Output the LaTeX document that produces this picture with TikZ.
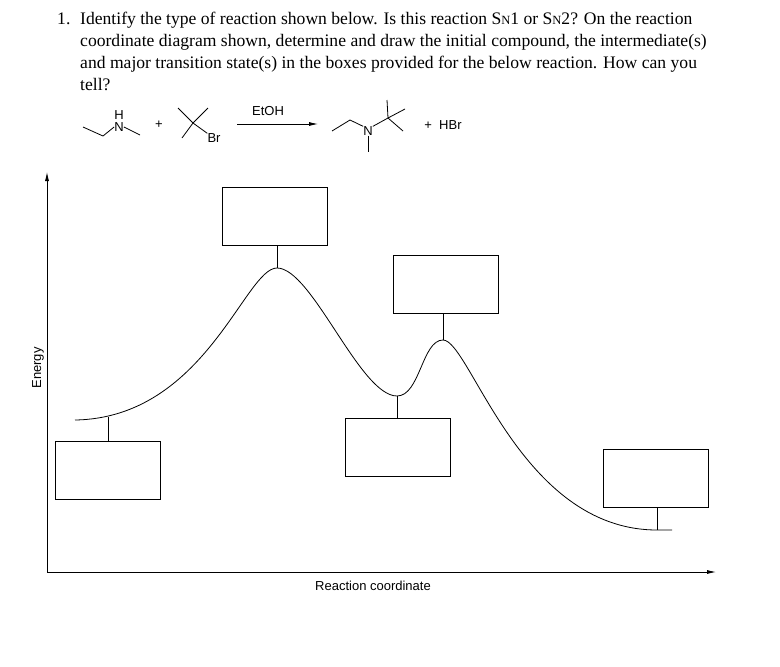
\documentclass[tikz,border=0pt]{standalone}
\usepackage{fontspec}
\usetikzlibrary{arrows.meta}
\setmainfont{Liberation Serif}
\newfontfamily\chemf{Liberation Sans}
\begin{document}
\begin{tikzpicture}[x=1pt,y=-1pt,
  qtext/.style={anchor=base west,inner sep=0,font=\fontsize{17.6}{20}\selectfont},
  lab/.style={inner sep=0,font=\chemf\fontsize{13}{13}\selectfont},
  bond/.style={line width=0.8pt},
  ansbox/.style={draw,line width=0.8pt,minimum width=105pt,minimum height=58pt,inner sep=0},
  tick/.style={line width=0.8pt},
  arr/.style={-{Latex[length=9pt,width=4pt]}}]
\useasboundingbox (0,0) rectangle (780,667);
\newcommand{\smN}{{\fontsize{12.5}{12.5}\selectfont N}}
\node[qtext] (q0) at (57,24) {1.};
\node[qtext] (q1) at (80,24) {Identify the type of reaction shown below. Is this reaction S\smN1 or S\smN2? On the reaction};
\node[qtext] (q2) at (80,46) {coordinate diagram shown, determine and draw the initial compound, the intermediate(s)};
\node[qtext] (q3) at (80,68) {and major transition state(s) in the boxes provided for the below reaction. How can you};
\node[qtext] (q4) at (80,90) {tell?};
% reactant amine
\node[lab] (n1) at (119,127) {N};
\node[lab] (h1) at (119,115) {H};
\draw[bond] (83,127) -- (103,136) -- (n1.west);
\draw[bond] (n1.east) -- (140,135);
\node[lab] (p1) at (159,125) {+};
% tBuBr
\coordinate (c1) at (193,123);
\node[lab] (br) at (214,138) {Br};
\draw[bond] (178,108) -- (c1) -- (208,108);
\draw[bond] (182,138) -- (c1) -- (br.north west);
% arrow
\node[lab] (etoh) at (268,111) {EtOH};
\coordinate (a1) at (237,124);
\coordinate (a2) at (318,124);
\draw[bond,arr] (a1) -- (a2);
% product
\node[lab] (n2) at (368,131) {N};
\draw[bond] (332,131) -- (350,120) -- (n2.north west);
\draw[bond] (n2.south) -- (368,152);
\coordinate (c2) at (388,118);
\draw[bond] (n2.north east) -- (c2);
\draw[bond] (387,100) -- (c2) -- (405,109);
\draw[bond] (c2) -- (403,131);
\node[lab] (hbr) at (443,125) {+\ \ HBr};
% axes
\coordinate (o) at (47,572);
\coordinate (ytop) at (47,172);
\coordinate (xend) at (716,572);
\draw[line width=0.8pt,arr] (o) -- (ytop);
\draw[line width=0.8pt,arr] (o) -- (xend);
\node[lab,rotate=90] (energy) at (38,368) {Energy};
\node[lab] (rc) at (373,586) {Reaction coordinate};
% curve
\coordinate (e0) at (108,417);
\coordinate (ts1) at (277,268);
\coordinate (int) at (397,396);
\coordinate (ts2) at (443,340);
\coordinate (prod) at (657,530);
\draw[line width=0.8pt] (75,420) .. controls (205,418) and (245,268) .. (ts1)
  .. controls (312,268) and (360,396) .. (int)
  .. controls (420,396) and (422,340) .. (ts2)
  .. controls (470,340) and (520,530) .. (prod) -- (672,530);
% boxes
\node[ansbox] (b1) at (275,216) {};
\node[ansbox] (b2) at (446,284) {};
\node[ansbox] (b3) at (398,447) {};
\node[ansbox] (b4) at (108,470) {};
\node[ansbox] (b5) at (656,478) {};
\draw[tick] (b1.south -| ts1) -- (ts1);
\draw[tick] (b2.south -| ts2) -- (ts2);
\draw[tick] (b3.north -| int) -- (int);
\draw[tick] (b4.north -| e0) -- (e0);
\draw[tick] (b5.south -| prod) -- (prod);
\end{tikzpicture}
\end{document}
